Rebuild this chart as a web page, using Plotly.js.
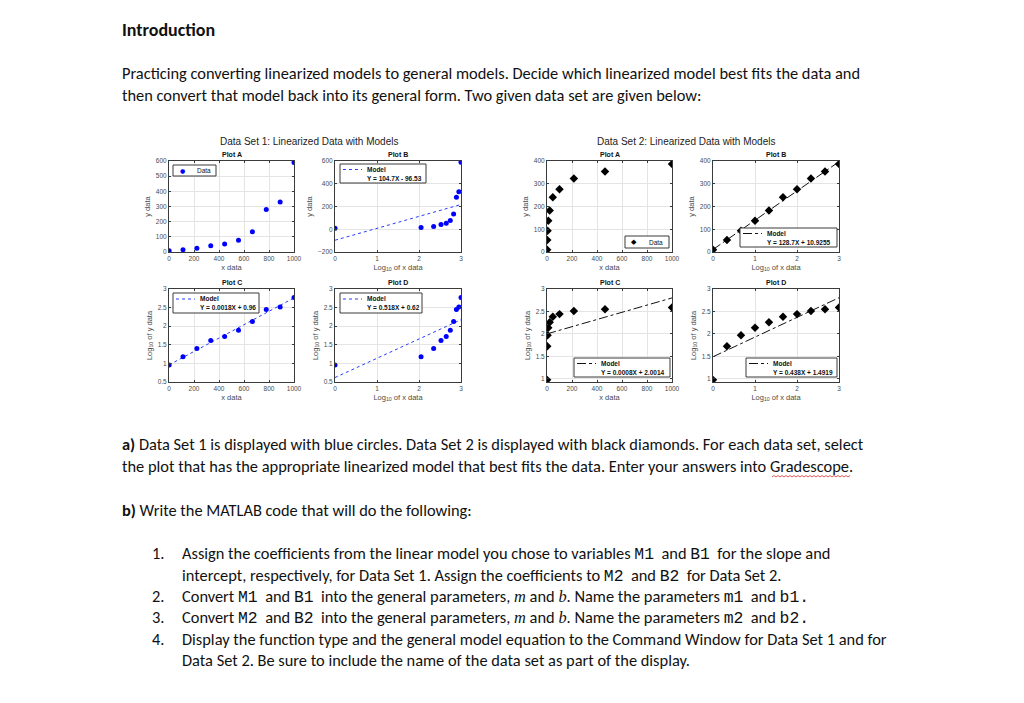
<!DOCTYPE html>
<html><head><meta charset="utf-8">
<script src="https://cdn.plot.ly/plotly-3.0.1.min.js"></script>
<style>html,body{margin:0;padding:0;background:#fff;}#c{width:1024px;height:703px;}</style>
</head><body><div id="c"></div>
<script>
// ---------- data ----------
const ds1X = [1, 112, 223, 334, 445, 556, 667, 778, 889, 1000];
const ds1Y = [9, 15, 25, 41, 53, 78, 134, 281, 330, 590];
const ds2X = [1, 2.15, 4.64, 10, 21.5, 46.4, 100, 215, 464, 1000];
const ds2Y = [9.5, 53, 93, 137, 182, 241, 276, 323, 354, 387];
// model coefficients [slope, intercept] for plots B, C, D
const ds1Models = [[104.7, -96.53], [0.0018, 0.96], [0.518, 0.62]];
const ds2Models = [[128.7, 10.9255], [0.0008, 2.0014], [0.438, 1.4919]];
const ds1ModelLabels = ['Y = 104.7X - 96.53', 'Y = 0.0018X + 0.96', 'Y = 0.518X + 0.62'];
const ds2ModelLabels = ['Y = 128.7X + 10.9255', 'Y = 0.0008X + 2.0014', 'Y = 0.438X + 1.4919'];
const plotTitles = ['Plot A', 'Plot B', 'Plot C', 'Plot D'];
const setTitles = ['Data Set 1: Linearized Data with Models', 'Data Set 2: Linearized Data with Models'];

const W = 1024, H = 703;
const PX = p => p / W, PY = p => 1 - p / H;
const log = a => a.map(v => Math.log10(v));

// panel boxes in pixels [x0,x1,y0,y1]
const boxes = [
  [169, 294, 161, 252], [335, 461, 161, 252], [169, 294, 289, 382], [335, 461, 289, 382],
  [547, 672, 161, 252], [713, 839, 161, 252], [547, 672, 289, 382], [713, 839, 289, 382]
];
const ranges = [
  [[0, 1000], [0, 600], 200, 100], [[0, 3], [-200, 600], 1, 200], [[0, 1000], [0.5, 3], 200, 0.5], [[0, 3], [0.5, 3], 1, 0.5],
  [[0, 1000], [0, 400], 200, 100], [[0, 3], [0, 400], 1, 100], [[0, 1000], [0.93, 3], 200, 0.5], [[0, 3], [0.93, 3], 1, 0.5]
];
const xTitles = ['x data', 'Log<sub>10</sub> of x data', 'x data', 'Log<sub>10</sub> of x data'];
const yTitles = ['y data', 'y data', 'Log<sub>10</sub> of y data', 'Log<sub>10</sub> of y data'];

const tickFont = {family: 'Liberation Sans, Arial, sans-serif', size: 6.5, color: '#4a4a4a'};
const lblFont = {family: 'Liberation Sans, Arial, sans-serif', size: 7.5, color: '#4a4a4a'};
const layout = {
  width: W, height: H, margin: {l: 0, r: 0, t: 0, b: 0},
  paper_bgcolor: '#fff', plot_bgcolor: '#fff', showlegend: false,
  annotations: [], shapes: []
};
const traces = [];

for (let i = 0; i < 8; i++) {
  const n = i + 1, b = boxes[i], r = ranges[i];
  const xa = 'xaxis' + (n === 1 ? '' : n), ya = 'yaxis' + (n === 1 ? '' : n);
  layout[xa] = {
    domain: [PX(b[0]), PX(b[1])], anchor: 'y' + (n === 1 ? '' : n), range: r[0], dtick: r[2], tick0: 0,
    showline: true, mirror: 'ticks', linecolor: '#3a3a3a', linewidth: 1, ticks: 'inside', ticklen: 2, tickcolor: '#3a3a3a',
    showgrid: true, gridcolor: '#e4e4e4', gridwidth: 1, zeroline: false, tickfont: tickFont,
    title: {text: xTitles[i % 4], font: lblFont, standoff: 3}
  };
  layout[ya] = {
    domain: [PY(b[3]), PY(b[2])], anchor: 'x' + (n === 1 ? '' : n), range: r[1], dtick: r[3], tick0: 0,
    showline: true, mirror: 'ticks', linecolor: '#3a3a3a', linewidth: 1, ticks: 'inside', ticklen: 2, tickcolor: '#3a3a3a',
    showgrid: true, gridcolor: '#e4e4e4', gridwidth: 1, zeroline: false, tickfont: tickFont,
    title: {text: yTitles[i % 4], font: lblFont, standoff: 4}
  };
  layout.annotations.push({
    xref: 'paper', yref: 'paper', x: PX((b[0] + b[1]) / 2), y: PY(b[2] - 7), xanchor: 'center', yanchor: 'middle',
    text: '<b>' + plotTitles[i % 4] + '</b>', showarrow: false, font: {family: 'Liberation Sans, Arial', size: 7, color: '#111'}
  });
}

// data traces
function addSet(X, Y, models, offset, marker, lineStyle) {
  const xs = [X, log(X), X, log(X)];
  const ys = [Y, Y, log(Y), log(Y)];
  for (let k = 0; k < 4; k++) {
    const n = offset + k + 1;
    const xr = 'x' + (n === 1 ? '' : n), yr = 'y' + (n === 1 ? '' : n);
    if (k > 0) {
      const m = models[k - 1];
      traces.push({x: xs[k], y: xs[k].map(v => m[0] * v + m[1]), xaxis: xr, yaxis: yr, mode: 'lines',
        line: lineStyle, hoverinfo: 'skip'});
    }
    traces.push({x: xs[k], y: ys[k], xaxis: xr, yaxis: yr, mode: 'markers', marker: marker});
  }
}
const blueMarker = {symbol: 'circle', size: 5, color: '#0000ff'};
const blackMarker = {symbol: 'diamond', size: 6.5, color: '#000'};
const blueLine = {color: '#2a3cff', width: 1, dash: 'dot'};
const blackLine = {color: '#111', width: 1, dash: 'dashdot'};
addSet(ds1X, ds1Y, ds1Models, 0, blueMarker, blueLine);
addSet(ds2X, ds2Y, ds2Models, 4, blackMarker, blackLine);

// legends (pixel boxes)
const legFont = {family: 'Liberation Sans, Arial', size: 6.5, color: '#111'};
function rect(x0, x1, y0, y1) {
  layout.shapes.push({type: 'rect', xref: 'paper', yref: 'paper', x0: PX(x0), x1: PX(x1), y0: PY(y1), y1: PY(y0),
    line: {color: '#3a3a3a', width: 1}, fillcolor: '#fff', layer: 'above'});
}
function txt(x, y, s, f, anchor) {
  layout.annotations.push({xref: 'paper', yref: 'paper', x: PX(x), y: PY(y), xanchor: anchor || 'left', yanchor: 'middle',
    text: s, showarrow: false, font: f});
}
function dataLegend(x0, x1, y0, y1, sym, col) {
  rect(x0, x1, y0, y1);
  txt(x0 + 9, (y0 + y1) / 2, sym, {family: 'DejaVu Sans', size: sym === '●' ? 6 : 7, color: col}, 'center');
  txt(x0 + 22, (y0 + y1) / 2, 'Data', legFont);
}
function modelLegend(x0, x1, y0, y1, label, ls) {
  rect(x0, x1, y0, y1);
  const ym = (y0 + y1) / 2;
  layout.shapes.push({type: 'line', xref: 'paper', yref: 'paper', x0: PX(x0 + 3), x1: PX(x0 + 22), y0: PY(ym - 4), y1: PY(ym - 4),
    line: {color: ls.color, width: 1, dash: ls.dash}, layer: 'above'});
  txt(x0 + 25, ym - 4.5, '<b>Model</b>', legFont);
  txt(x0 + 25, ym + 4.5, '<b>' + label + '</b>', legFont);
}
dataLegend(173, 216, 165, 176, '●', '#0000ff');
modelLegend(340, 426, 164, 183, ds1ModelLabels[0], blueLine);
modelLegend(173, 259, 293, 313, ds1ModelLabels[1], blueLine);
modelLegend(340, 422, 293, 313, ds1ModelLabels[2], blueLine);
dataLegend(625, 669, 236, 248, '◆', '#000');
modelLegend(740, 837, 228, 247, ds2ModelLabels[0], blackLine);
modelLegend(574, 670, 358, 377, ds2ModelLabels[1], blackLine);
modelLegend(746, 837, 358, 377, ds2ModelLabels[2], blackLine);

// figure super titles
txt(309, 141, setTitles[0], {family: 'Liberation Sans, Arial', size: 10, color: '#222'}, 'center');
txt(686, 141, setTitles[1], {family: 'Liberation Sans, Arial', size: 10, color: '#222'}, 'center');

// document text
const docFam = 'Carlito, Calibri, Lato, sans-serif';
const docFont = {family: docFam, size: 16.4, color: '#111'};
const mono = s => "<span style=\"font-family:'Liberation Mono','Courier New','Nimbus Mono PS',monospace\">" + s + '</span>';
const ital = s => "<span style=\"font-family:'Liberation Serif','DejaVu Serif',serif;font-style:italic\">" + s + '</span>';
txt(120, 30, '<b>Introduction</b>', {family: docFam, size: 18, color: '#111'});
txt(120, 73, 'Practicing converting linearized models to general models. Decide which linearized model best fits the data and', docFont);
txt(120, 95, 'then convert that model back into its general form. Two given data set are given below:', docFont);
txt(120, 444, '<b>a)</b> Data Set 1 is displayed with blue circles. Data Set 2 is displayed with black diamonds. For each data set, select', docFont);
txt(120, 466, 'the plot that has the appropriate linearized model that best fits the data. Enter your answers into Gradescope.', docFont);
txt(120, 510, '<b>b)</b> Write the MATLAB code that will do the following:', docFont);
const nums = [['1.', 553], ['2.', 596], ['3.', 617], ['4.', 639]];
nums.forEach(n => txt(150, n[1], n[0], docFont));
txt(180, 553, 'Assign the coefficients from the linear model you chose to variables ' + mono('M1') + '  and ' + mono('B1') + '  for the slope and', docFont);
txt(180, 575, 'intercept, respectively, for Data Set 1. Assign the coefficients to ' + mono('M2') + '  and ' + mono('B2') + '  for Data Set 2.', docFont);
txt(180, 596, 'Convert ' + mono('M1') + '  and ' + mono('B1') + '  into the general parameters, ' + ital('m') + ' and ' + ital('b') + '. Name the parameters ' + mono('m1') + '  and ' + mono('b1.'), docFont);
txt(180, 617, 'Convert ' + mono('M2') + '  and ' + mono('B2') + '  into the general parameters, ' + ital('m') + ' and ' + ital('b') + '. Name the parameters ' + mono('m2') + '  and ' + mono('b2.'), docFont);
txt(180, 639, 'Display the function type and the general model equation to the Command Window for Data Set 1 and for', docFont);
txt(180, 660, 'Data Set 2. Be sure to include the name of the data set as part of the display.', docFont);

// spell-check squiggle under "Gradescope"
let sq = 'M ' + PX(772) + ' ' + PY(477);
for (let x = 772, k = 0; x < 850; x += 2, k++) sq += ' L ' + PX(x + 2) + ' ' + PY(k % 2 ? 477 : 475.5);
layout.shapes.push({type: 'path', xref: 'paper', yref: 'paper', path: sq, line: {color: '#e03030', width: 0.8}});

Plotly.newPlot('c', traces, layout, {staticPlot: true, displayModeBar: false});
</script></body></html>
